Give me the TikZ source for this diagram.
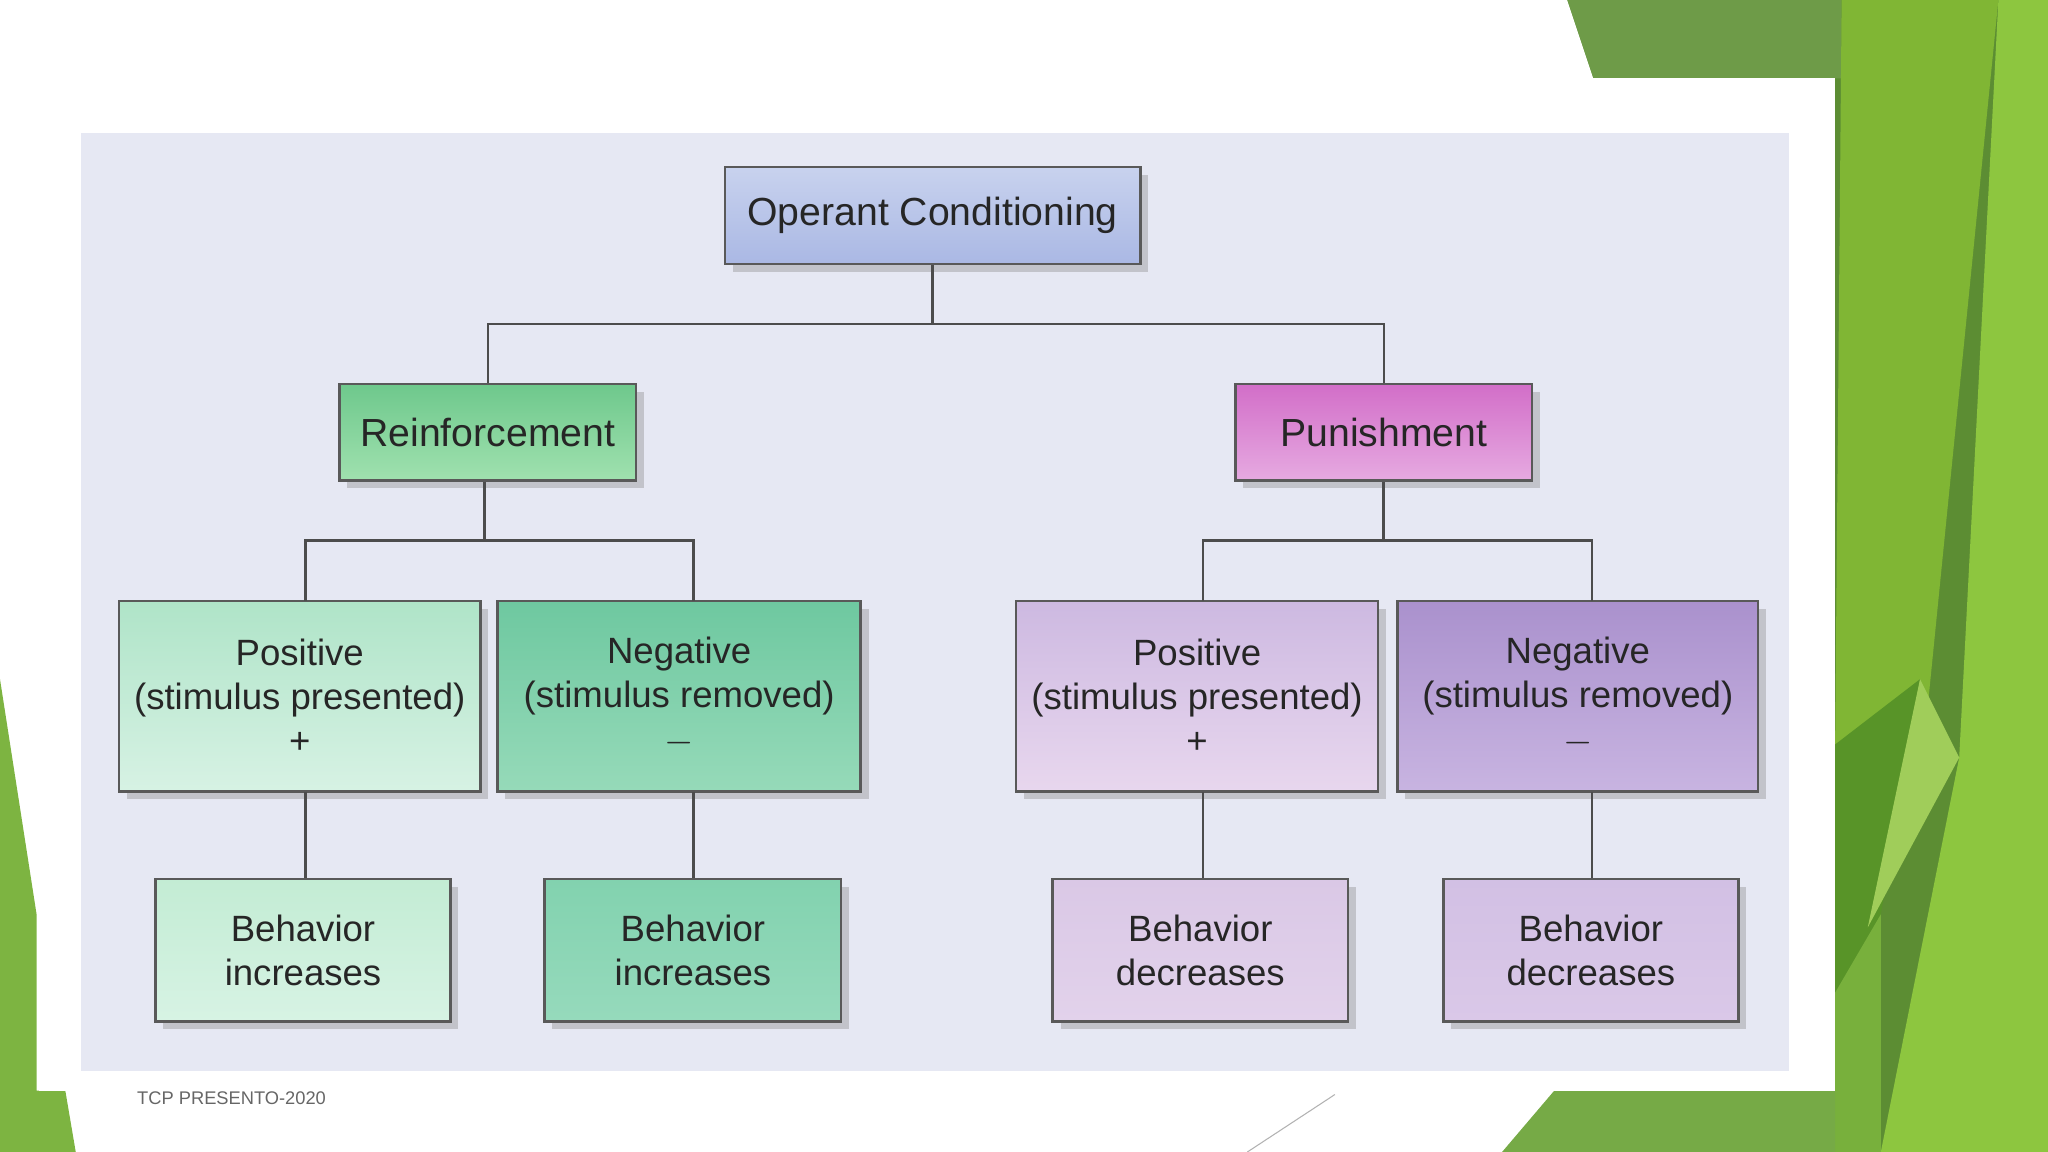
\documentclass[tikz,border=0pt]{standalone}
\usepackage{fontspec}
\setmainfont{Liberation Sans}
\usetikzlibrary{shadows}
\definecolor{bgl}{HTML}{E6E8F3}
\begin{document}
\begin{tikzpicture}[x=0.5pt,y=-0.5pt,
 box/.style={draw=black!65,line width=1pt,drop shadow={opacity=0.35,shadow xshift=3pt,shadow yshift=-3pt},align=center,font=\fontsize{14}{17}\selectfont,text=black!85,inner sep=0pt},
 ln/.style={draw=black!70,line width=1pt}]
\useasboundingbox (0,0) rectangle (1568,882);
\fill[white] (0,0) rectangle (1568,882);
% green decoration
\fill[green!40!black!60!olive!80] (1200,0)--(1568,0)--(1568,882)--(1405,882)--(1405,60)--(1220,60)--cycle;
\fill[color={rgb,255:red,110;green,155;blue,72}] (1200,0)--(1410,0)--(1410,60)--(1220,60)--cycle;
\fill[color={rgb,255:red,128;green,182;blue,52}] (1410,0)--(1530,0)--(1470,600)--(1405,570)--cycle;
\fill[color={rgb,255:red,141;green,198;blue,63}] (1530,0)--(1568,0)--(1568,882)--(1440,882)--(1500,580)--cycle;
\fill[color={rgb,255:red,88;green,148;blue,40}] (1405,570)--(1470,520)--(1440,700)--(1405,760)--cycle;
\fill[color={rgb,255:red,160;green,205;blue,90}] (1470,520)--(1500,580)--(1430,710)--cycle;
\fill[color={rgb,255:red,120;green,176;blue,60}] (1405,760)--(1440,700)--(1440,882)--(1405,882)--cycle;
\fill[color={rgb,255:red,118;green,170;blue,70}] (1150,882)--(1190,835)--(1405,835)--(1405,882)--cycle;
\fill[color={rgb,255:red,125;green,180;blue,65}] (0,520)--(28,700)--(28,835)--(50,835)--(58,882)--(0,882)--cycle;
\fill[white] (30,60) rectangle (1405,835);
\draw[black!30] (955,882)--(1022,838);
% diagram background
\fill[bgl] (62,102) rectangle (1370,820);
% nodes
\node[box,top color={rgb,255:red,200;green,210;blue,238},bottom color={rgb,255:red,170;green,184;blue,228},minimum width=159pt,minimum height=37pt,font=\fontsize{15}{18}\selectfont] (oc) at (714,165) {Operant Conditioning};
\node[box,top color={rgb,255:red,110;green,200;blue,140},bottom color={rgb,255:red,160;green,225;blue,175},minimum width=113.5pt,minimum height=37pt,font=\fontsize{15}{18}\selectfont] (re) at (373.5,331) {Reinforcement};
\node[box,top color={rgb,255:red,210;green,110;blue,200},bottom color={rgb,255:red,230;green,170;blue,225},minimum width=113.5pt,minimum height=37pt,font=\fontsize{15}{18}\selectfont] (pu) at (1059.5,331) {Punishment};
\node[box,top color={rgb,255:red,175;green,228;blue,200},bottom color={rgb,255:red,215;green,242;blue,228},minimum width=138.5pt,minimum height=73pt] (rp) at (229.5,533) {Positive\\(stimulus presented)\\+};
\node[box,top color={rgb,255:red,110;green,200;blue,160},bottom color={rgb,255:red,150;green,218;blue,185},minimum width=139pt,minimum height=73pt] (rn) at (520,533) {Negative\\(stimulus removed)\\$-$};
\node[box,top color={rgb,255:red,205;green,185;blue,225},bottom color={rgb,255:red,232;green,215;blue,238},minimum width=138.5pt,minimum height=73pt] (pp) at (916.5,533) {Positive\\(stimulus presented)\\+};
\node[box,top color={rgb,255:red,170;green,145;blue,205},bottom color={rgb,255:red,200;green,180;blue,225},minimum width=138pt,minimum height=73pt] (pn) at (1208,533) {Negative\\(stimulus removed)\\$-$};
\node[box,top color={rgb,255:red,195;green,236;blue,212},bottom color={rgb,255:red,215;green,243;blue,228},minimum width=113pt,minimum height=54.5pt] (rpb) at (232,727.5) {Behavior\\increases};
\node[box,top color={rgb,255:red,130;green,210;blue,175},bottom color={rgb,255:red,150;green,218;blue,188},minimum width=113.5pt,minimum height=54.5pt] (rnb) at (530.5,727.5) {Behavior\\increases};
\node[box,top color={rgb,255:red,218;green,200;blue,230},bottom color={rgb,255:red,226;green,210;blue,235},minimum width=113pt,minimum height=54.5pt] (ppb) at (919,727.5) {Behavior\\decreases};
\node[box,top color={rgb,255:red,210;green,192;blue,228},bottom color={rgb,255:red,218;green,200;blue,232},minimum width=113pt,minimum height=54.5pt] (pnb) at (1218,727.5) {Behavior\\decreases};
% connectors
\coordinate (h0) at (714,248);
\draw[ln] (oc.south) -- (h0) -| (re.north);
\draw[ln] (h0) -| (pu.north);
\coordinate (h1) at (371,414);
\draw[ln] (re.south -| h1) -- (h1) -| (234,460);
\draw[ln] (h1) -| (531,460);
\coordinate (h2) at (1059,414);
\draw[ln] (pu.south -| h2) -- (h2) -| (921,460);
\draw[ln] (h2) -| (1219,460);
\draw[ln] (234,606) -- (rpb.north -| 234,0);
\draw[ln] (531,606) -- (rnb.north -| 531,0);
\draw[ln] (921,606) -- (ppb.north -| 921,0);
\draw[ln] (1219,606) -- (pnb.north -| 1219,0);
\node[anchor=west,text=black!60,font=\fontsize{7}{8}\selectfont] (ft) at (98,841) {TCP PRESENTO-2020};
\end{tikzpicture}
\end{document}
